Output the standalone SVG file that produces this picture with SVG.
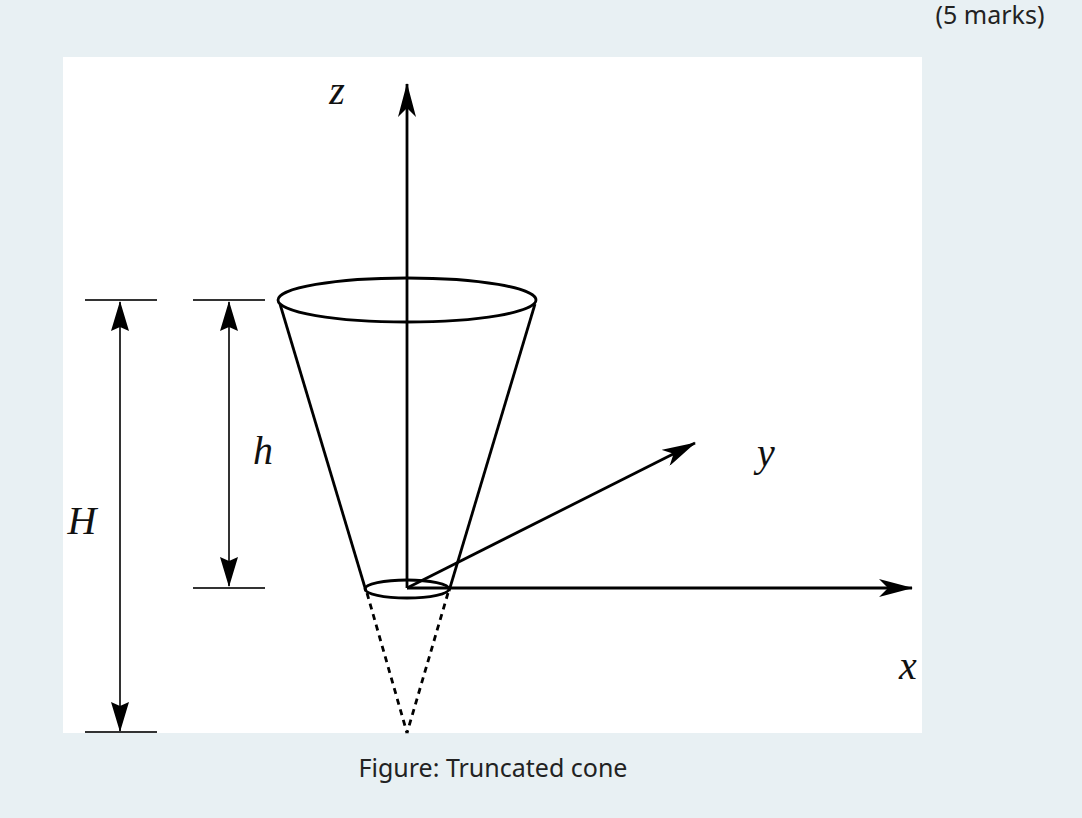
<svg xmlns="http://www.w3.org/2000/svg" width="1082" height="818" viewBox="0 0 1082 818">
<defs>
<marker id="ah" viewBox="0 0 34 18" refX="33" refY="9" markerWidth="34" markerHeight="18" markerUnits="userSpaceOnUse" orient="auto-start-reverse"><path d="M0,0 L34,9 L0,18 L9,9 Z" fill="#000"/></marker>
<marker id="ah2" viewBox="0 0 30 18" refX="29" refY="9" markerWidth="30" markerHeight="18" markerUnits="userSpaceOnUse" orient="auto-start-reverse"><path d="M0,0 L30,9 L0,18 L4,9 Z" fill="#000"/></marker>
<style>
.l{stroke:#000;stroke-width:2.8;fill:none}
.d{stroke:#333;stroke-width:2;fill:none}
.m{font-family:"Liberation Serif",serif;font-style:italic;font-size:40px;fill:#111}
.t{font-family:"Noto Sans","Open Sans",sans-serif;font-size:25px;fill:#222}
</style>
</defs>
<rect width="1082" height="818" fill="#e8f0f3"/>
<text class="t" x="990" y="24" text-anchor="middle">(5 marks)</text>
<rect x="63" y="57" width="859" height="676" fill="#fff"/>
<g id="connectors">
<line class="l" x1="407" y1="588" x2="407" y2="84" marker-end="url(#ah)"/>
<line class="l" x1="407" y1="588" x2="912" y2="588" marker-end="url(#ah)"/>
<line class="l" x1="407" y1="588" x2="695" y2="443" marker-end="url(#ah)"/>
<line class="d" x1="120" y1="302" x2="120" y2="731" marker-start="url(#ah2)" marker-end="url(#ah2)"/>
<line class="d" x1="229" y1="302" x2="229" y2="586" marker-start="url(#ah2)" marker-end="url(#ah2)"/>
<line class="d" x1="85" y1="300" x2="157" y2="300"/>
<line class="d" x1="85" y1="732" x2="157" y2="732"/>
<line class="d" x1="193" y1="300" x2="265" y2="300"/>
<line class="d" x1="193" y1="588" x2="265" y2="588"/>
</g>
<g id="cone">
<ellipse class="l" cx="407" cy="300" rx="129" ry="22"/>
<ellipse class="l" cx="407" cy="589" rx="42" ry="9"/>
<line class="l" x1="280" y1="304" x2="366" y2="591"/>
<line class="l" x1="535" y1="304" x2="449" y2="591"/>
<path class="l" d="M367,593 L407,733 M448,593 L407,733" stroke-dasharray="6,5" stroke-width="3"/>
</g>
<g id="labels">
<text class="m" x="337" y="104" text-anchor="middle">z</text>
<text class="m" x="766" y="466" text-anchor="middle">y</text>
<text class="m" x="908" y="679" text-anchor="middle">x</text>
<text class="m" x="263" y="464" text-anchor="middle">h</text>
<text class="m" x="82" y="534" text-anchor="middle">H</text>
</g>
<text class="t" x="493" y="777" text-anchor="middle">Figure: Truncated cone</text>
</svg>
